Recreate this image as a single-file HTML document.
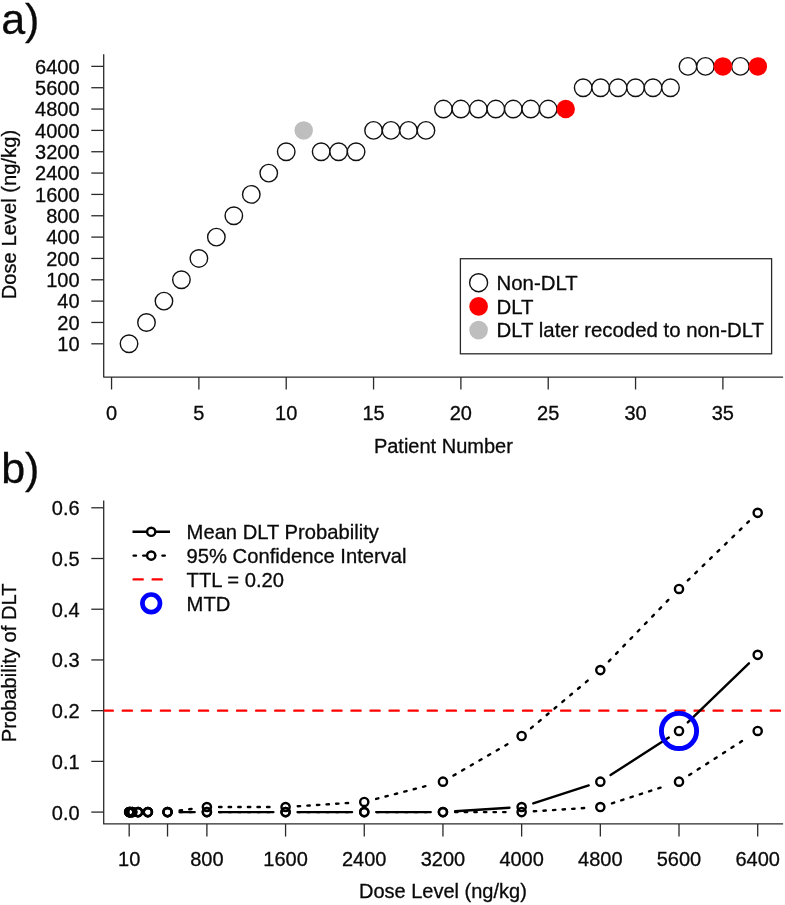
<!DOCTYPE html>
<html><head><meta charset="utf-8"><title>Dose escalation</title>
<style>
html,body{margin:0;padding:0;background:#fff}
svg{display:block}
text{font-family:"Liberation Sans",Arial,sans-serif;fill:#0a0a0a;stroke:#0a0a0a;stroke-width:0.3px}
</style></head><body>
<svg width="785" height="905" viewBox="0 0 785 905">
<rect width="785" height="905" fill="#fff"/>
<g id="panel-a">
<text x="1.2" y="33.9" font-size="43">a)</text>
<g stroke="#2a2a2a" stroke-width="1.3" fill="none" stroke-linecap="butt" stroke-linejoin="round">
<path d="M103.7 54.3V377.1H783.1"/>
<path d="M91.3 343.80H103.7"/>
<path d="M91.3 322.46H103.7"/>
<path d="M91.3 301.12H103.7"/>
<path d="M91.3 279.78H103.7"/>
<path d="M91.3 258.44H103.7"/>
<path d="M91.3 237.10H103.7"/>
<path d="M91.3 215.76H103.7"/>
<path d="M91.3 194.42H103.7"/>
<path d="M91.3 173.08H103.7"/>
<path d="M91.3 151.74H103.7"/>
<path d="M91.3 130.40H103.7"/>
<path d="M91.3 109.06H103.7"/>
<path d="M91.3 87.72H103.7"/>
<path d="M91.3 66.38H103.7"/>
<path d="M111.55 377.1V389.5"/>
<path d="M198.88 377.1V389.5"/>
<path d="M286.22 377.1V389.5"/>
<path d="M373.56 377.1V389.5"/>
<path d="M460.89 377.1V389.5"/>
<path d="M548.22 377.1V389.5"/>
<path d="M635.56 377.1V389.5"/>
<path d="M722.89 377.1V389.5"/>
</g>
<g font-size="20" text-anchor="end">
<text x="79.6" y="351.00">10</text>
<text x="79.6" y="329.66">20</text>
<text x="79.6" y="308.32">40</text>
<text x="79.6" y="286.98">100</text>
<text x="79.6" y="265.64">200</text>
<text x="79.6" y="244.30">400</text>
<text x="79.6" y="222.96">800</text>
<text x="79.6" y="201.62">1600</text>
<text x="79.6" y="180.28">2400</text>
<text x="79.6" y="158.94">3200</text>
<text x="79.6" y="137.60">4000</text>
<text x="79.6" y="116.26">4800</text>
<text x="79.6" y="94.92">5600</text>
<text x="79.6" y="73.58">6400</text>
</g>
<g font-size="20" text-anchor="middle">
<text x="111.55" y="419.8">0</text>
<text x="198.88" y="419.8">5</text>
<text x="286.22" y="419.8">10</text>
<text x="373.56" y="419.8">15</text>
<text x="460.89" y="419.8">20</text>
<text x="548.22" y="419.8">25</text>
<text x="635.56" y="419.8">30</text>
<text x="722.89" y="419.8">35</text>
<text x="443.4" y="452.9">Patient Number</text>
<text font-size="20.2" transform="translate(16.4 214.6) rotate(-90)">Dose Level (ng/kg)</text>
</g>
<g fill="#fff" stroke="#111" stroke-width="1.4">
<circle cx="129.02" cy="343.80" r="8.75"/>
<circle cx="146.48" cy="322.46" r="8.75"/>
<circle cx="163.95" cy="301.12" r="8.75"/>
<circle cx="181.42" cy="279.78" r="8.75"/>
<circle cx="198.88" cy="258.44" r="8.75"/>
<circle cx="216.35" cy="237.10" r="8.75"/>
<circle cx="233.82" cy="215.76" r="8.75"/>
<circle cx="251.29" cy="194.42" r="8.75"/>
<circle cx="268.75" cy="173.08" r="8.75"/>
<circle cx="286.22" cy="151.74" r="8.75"/>
<circle cx="321.15" cy="151.74" r="8.75"/>
<circle cx="338.62" cy="151.74" r="8.75"/>
<circle cx="356.09" cy="151.74" r="8.75"/>
<circle cx="373.56" cy="130.40" r="8.75"/>
<circle cx="391.02" cy="130.40" r="8.75"/>
<circle cx="408.49" cy="130.40" r="8.75"/>
<circle cx="425.96" cy="130.40" r="8.75"/>
<circle cx="443.42" cy="109.06" r="8.75"/>
<circle cx="460.89" cy="109.06" r="8.75"/>
<circle cx="478.36" cy="109.06" r="8.75"/>
<circle cx="495.82" cy="109.06" r="8.75"/>
<circle cx="513.29" cy="109.06" r="8.75"/>
<circle cx="530.76" cy="109.06" r="8.75"/>
<circle cx="548.22" cy="109.06" r="8.75"/>
<circle cx="583.16" cy="87.72" r="8.75"/>
<circle cx="600.63" cy="87.72" r="8.75"/>
<circle cx="618.09" cy="87.72" r="8.75"/>
<circle cx="635.56" cy="87.72" r="8.75"/>
<circle cx="653.03" cy="87.72" r="8.75"/>
<circle cx="670.49" cy="87.72" r="8.75"/>
<circle cx="687.96" cy="66.38" r="8.75"/>
<circle cx="705.43" cy="66.38" r="8.75"/>
<circle cx="740.36" cy="66.38" r="8.75"/>
</g>
<circle cx="565.69" cy="109.06" r="9.25" fill="#ff0000"/>
<circle cx="722.89" cy="66.38" r="9.25" fill="#ff0000"/>
<circle cx="757.83" cy="66.38" r="9.25" fill="#ff0000"/>
<circle cx="303.69" cy="130.40" r="9.25" fill="#bebebe"/>
<rect x="460.4" y="258.7" width="311.2" height="95.1" fill="#fff" stroke="#2a2a2a" stroke-width="1.3"/>
<circle cx="478.6" cy="282.7" r="9.0" fill="#fff" stroke="#111" stroke-width="1.4"/>
<circle cx="478.6" cy="306.4" r="9.3" fill="#ff0000"/>
<circle cx="478.6" cy="330.1" r="9.3" fill="#bebebe"/>
<g font-size="20.4">
<text x="496.5" y="289.90">Non-DLT</text>
<text x="496.5" y="313.60">DLT</text>
<text x="496.5" y="337.30">DLT later recoded to non-DLT</text>
</g>
</g>
<g id="panel-b">
<text x="1.2" y="482.6" font-size="43">b)</text>
<g stroke="#2a2a2a" stroke-width="1.3" fill="none" stroke-linejoin="round">
<path d="M103.7 500.6V823.95H783.1"/>
<path d="M91.3 812.10H103.7"/>
<path d="M91.3 761.38H103.7"/>
<path d="M91.3 710.66H103.7"/>
<path d="M91.3 659.94H103.7"/>
<path d="M91.3 609.22H103.7"/>
<path d="M91.3 558.50H103.7"/>
<path d="M91.3 507.78H103.7"/>
<path d="M129.18 823.95V836.5500000000001"/>
<path d="M167.54 823.95V836.5500000000001"/>
<path d="M206.89 823.95V836.5500000000001"/>
<path d="M285.57 823.95V836.5500000000001"/>
<path d="M364.26 823.95V836.5500000000001"/>
<path d="M442.95 823.95V836.5500000000001"/>
<path d="M521.64 823.95V836.5500000000001"/>
<path d="M600.33 823.95V836.5500000000001"/>
<path d="M679.01 823.95V836.5500000000001"/>
<path d="M757.70 823.95V836.5500000000001"/>
</g>
<g font-size="20" text-anchor="end">
<text x="79.6" y="819.55">0.0</text>
<text x="79.6" y="768.83">0.1</text>
<text x="79.6" y="718.11">0.2</text>
<text x="79.6" y="667.39">0.3</text>
<text x="79.6" y="616.67">0.4</text>
<text x="79.6" y="565.95">0.5</text>
<text x="79.6" y="515.23">0.6</text>
</g>
<g font-size="20" text-anchor="middle">
<text x="129.18" y="866.1">10</text>
<text x="206.89" y="866.1">800</text>
<text x="285.57" y="866.1">1600</text>
<text x="364.26" y="866.1">2400</text>
<text x="442.95" y="866.1">3200</text>
<text x="521.64" y="866.1">4000</text>
<text x="600.33" y="866.1">4800</text>
<text x="679.01" y="866.1">5600</text>
<text x="757.70" y="866.1">6400</text>
<text x="442.9" y="898.4">Dose Level (ng/kg)</text>
<text font-size="20.2" transform="translate(16.4 662.8) rotate(-90)">Probability of DLT</text>
</g>
<clipPath id="plotb"><rect x="103.7" y="500.6" width="679.8" height="323.35"/></clipPath>
<path clip-path="url(#plotb)" d="M103.7 710.66H783.1" stroke="#ff0000" stroke-width="2.4" stroke-dasharray="9.1 9.96" stroke-linecap="round" fill="none"/>
<path d="M179.74 812.10L194.69 812.10" stroke="#000" stroke-width="2.4" stroke-linecap="round" fill="none" stroke-dasharray="2.4 7.20"/>
<path d="M219.09 812.10L273.38 812.10" stroke="#000" stroke-width="2.4" stroke-linecap="round" fill="none" stroke-dasharray="2.4 7.20"/>
<path d="M297.77 812.10L352.06 812.10" stroke="#000" stroke-width="2.4" stroke-linecap="round" fill="none" stroke-dasharray="2.4 7.20"/>
<path d="M376.46 812.10L430.75 812.10" stroke="#000" stroke-width="2.4" stroke-linecap="round" fill="none" stroke-dasharray="2.4 7.20"/>
<path d="M455.15 812.10L509.44 812.10" stroke="#000" stroke-width="2.4" stroke-linecap="round" fill="none" stroke-dasharray="2.4 7.20"/>
<path d="M533.81 811.32L588.15 807.81" stroke="#000" stroke-width="2.4" stroke-linecap="round" fill="none" stroke-dasharray="2.4 7.21"/>
<path d="M611.94 803.29L667.40 785.41" stroke="#000" stroke-width="2.4" stroke-linecap="round" fill="none" stroke-dasharray="2.4 7.34"/>
<path d="M689.27 775.06L747.45 737.56" stroke="#000" stroke-width="2.4" stroke-linecap="round" fill="none" stroke-dasharray="2.4 7.65"/>
<g fill="none" stroke="#000" stroke-width="2.4">
<circle cx="129.18" cy="812.10" r="4.1"/>
<circle cx="130.17" cy="812.10" r="4.1"/>
<circle cx="132.13" cy="812.10" r="4.1"/>
<circle cx="138.04" cy="812.10" r="4.1"/>
<circle cx="147.87" cy="812.10" r="4.1"/>
<circle cx="167.54" cy="812.10" r="4.1"/>
<circle cx="206.89" cy="812.10" r="4.1"/>
<circle cx="285.57" cy="812.10" r="4.1"/>
<circle cx="364.26" cy="812.10" r="4.1"/>
<circle cx="442.95" cy="812.10" r="4.1"/>
<circle cx="521.64" cy="812.10" r="4.1"/>
<circle cx="600.33" cy="807.03" r="4.1"/>
<circle cx="679.01" cy="781.67" r="4.1"/>
<circle cx="757.70" cy="730.95" r="4.1"/>
</g>
<path d="M179.64 810.54L194.79 808.59" stroke="#000" stroke-width="2.4" stroke-linecap="round" fill="none" stroke-dasharray="2.4 7.23"/>
<path d="M219.09 807.03L273.38 807.03" stroke="#000" stroke-width="2.4" stroke-linecap="round" fill="none" stroke-dasharray="2.4 7.20"/>
<path d="M297.75 806.24L352.09 802.74" stroke="#000" stroke-width="2.4" stroke-linecap="round" fill="none" stroke-dasharray="2.4 7.21"/>
<path d="M376.08 798.91L431.14 784.71" stroke="#000" stroke-width="2.4" stroke-linecap="round" fill="none" stroke-dasharray="2.4 7.30"/>
<path d="M453.50 775.55L511.08 742.14" stroke="#000" stroke-width="2.4" stroke-linecap="round" fill="none" stroke-dasharray="2.4 7.59"/>
<path d="M530.99 728.18L590.97 677.92" stroke="#000" stroke-width="2.4" stroke-linecap="round" fill="none" stroke-dasharray="2.4 7.83"/>
<path d="M608.82 661.33L670.52 597.69" stroke="#000" stroke-width="2.4" stroke-linecap="round" fill="none" stroke-dasharray="2.4 7.99"/>
<path d="M687.78 580.45L748.93 521.33" stroke="#000" stroke-width="2.4" stroke-linecap="round" fill="none" stroke-dasharray="2.4 7.94"/>
<g fill="none" stroke="#000" stroke-width="2.4">
<circle cx="129.18" cy="812.10" r="4.1"/>
<circle cx="130.17" cy="812.10" r="4.1"/>
<circle cx="132.13" cy="812.10" r="4.1"/>
<circle cx="138.04" cy="812.10" r="4.1"/>
<circle cx="147.87" cy="812.10" r="4.1"/>
<circle cx="167.54" cy="812.10" r="4.1"/>
<circle cx="206.89" cy="807.03" r="4.1"/>
<circle cx="285.57" cy="807.03" r="4.1"/>
<circle cx="364.26" cy="801.96" r="4.1"/>
<circle cx="442.95" cy="781.67" r="4.1"/>
<circle cx="521.64" cy="736.02" r="4.1"/>
<circle cx="600.33" cy="670.08" r="4.1"/>
<circle cx="679.01" cy="588.93" r="4.1"/>
<circle cx="757.70" cy="512.85" r="4.1"/>
</g>
<path d="M179.74 812.10L194.69 812.10" stroke="#000" stroke-width="2.4" stroke-linecap="round" fill="none"/>
<path d="M219.09 812.10L273.38 812.10" stroke="#000" stroke-width="2.4" stroke-linecap="round" fill="none"/>
<path d="M297.77 812.10L352.06 812.10" stroke="#000" stroke-width="2.4" stroke-linecap="round" fill="none"/>
<path d="M376.46 812.10L430.75 812.10" stroke="#000" stroke-width="2.4" stroke-linecap="round" fill="none"/>
<path d="M455.12 811.32L509.46 807.81" stroke="#000" stroke-width="2.4" stroke-linecap="round" fill="none"/>
<path d="M533.25 803.29L588.71 785.41" stroke="#000" stroke-width="2.4" stroke-linecap="round" fill="none"/>
<path d="M610.58 775.06L668.76 737.56" stroke="#000" stroke-width="2.4" stroke-linecap="round" fill="none"/>
<path d="M687.78 722.47L748.93 663.35" stroke="#000" stroke-width="2.4" stroke-linecap="round" fill="none"/>
<g fill="none" stroke="#000" stroke-width="2.4">
<circle cx="129.18" cy="812.10" r="4.1"/>
<circle cx="130.17" cy="812.10" r="4.1"/>
<circle cx="132.13" cy="812.10" r="4.1"/>
<circle cx="138.04" cy="812.10" r="4.1"/>
<circle cx="147.87" cy="812.10" r="4.1"/>
<circle cx="167.54" cy="812.10" r="4.1"/>
<circle cx="206.89" cy="812.10" r="4.1"/>
<circle cx="285.57" cy="812.10" r="4.1"/>
<circle cx="364.26" cy="812.10" r="4.1"/>
<circle cx="442.95" cy="812.10" r="4.1"/>
<circle cx="521.64" cy="807.03" r="4.1"/>
<circle cx="600.33" cy="781.67" r="4.1"/>
<circle cx="679.01" cy="730.95" r="4.1"/>
<circle cx="757.70" cy="654.87" r="4.1"/>
</g>
<circle cx="679.01" cy="730.95" r="17.6" fill="none" stroke="#0000ff" stroke-width="4.9"/>
<path d="M132.5 531.8H170" stroke="#000" stroke-width="2.4"/>
<circle cx="151.2" cy="531.8" r="4.1" fill="#fff" stroke="#000" stroke-width="2.4"/>
<path d="M133.6 555.6H170" stroke="#000" stroke-width="2.4" stroke-dasharray="2.4 7.2" stroke-linecap="round"/>
<circle cx="151.2" cy="555.6" r="4.1" fill="#fff" stroke="#000" stroke-width="2.4"/>
<path d="M133.6 579.4H170" stroke="#ff0000" stroke-width="2.4" stroke-dasharray="9.1 9.96" stroke-linecap="round"/>
<circle cx="151.2" cy="603.3" r="8.8" fill="none" stroke="#0000ff" stroke-width="4.7"/>
<g font-size="20.2">
<text x="186.6" y="539.00">Mean DLT Probability</text>
<text x="186.6" y="562.80">95% Confidence Interval</text>
<text x="186.6" y="586.60">TTL = 0.20</text>
<text x="186.6" y="610.50">MTD</text>
</g>
</g>
</svg></body></html>
